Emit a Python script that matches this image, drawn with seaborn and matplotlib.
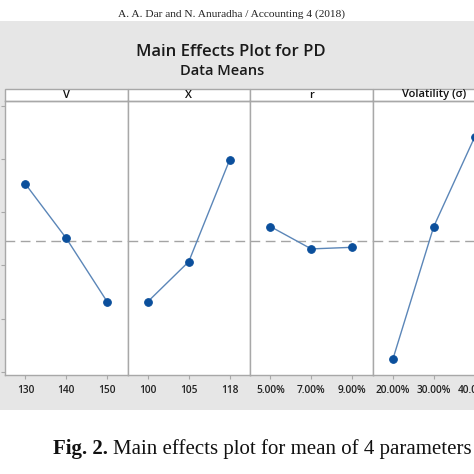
import numpy as np
import pandas as pd
import matplotlib
matplotlib.use('Agg')
import matplotlib.pyplot as plt
import matplotlib.patches as mpatches
import seaborn as sns

# ── Data ────────────────────────────────────────────────────────
factors   = ['V', 'X', 'r', 'Volatility (σ)']
v_levels  = ['130', '140', '150']
x_levels  = ['100', '105', '118']
r_levels  = ['5.00%', '7.00%', '9.00%']
s_levels  = ['20.00%', '30.00%', '40.00%']
v_means   = [13.53, 12.51, 11.32]
x_means   = [11.32, 12.07, 13.98]
r_means   = [12.73, 12.31, 12.34]
s_means   = [10.24, 12.73, 14.41]
y_ticks   = [10, 11, 12, 13, 14, 15]

levels = [v_levels, x_levels, r_levels, s_levels]
means  = [v_means, x_means, r_means, s_means]

df = pd.concat([
    pd.DataFrame({'factor': f, 'level': lv, 'PD': m})
    for f, lv, m in zip(factors, levels, means)
], ignore_index=True)
grand_mean = np.mean(v_means)

# ── Figure ──────────────────────────────────────────────────────
sns.set_style('white')
plt.rcParams['font.family'] = ['Open Sans', 'DejaVu Sans']

W = H = 474
fig = plt.figure(figsize=(4.74, 4.74), dpi=100)

# gray Minitab backdrop (behind the axes)
fig.patches.append(mpatches.Rectangle((0, (H - 410) / H), 1, (410 - 21) / H,
                                      transform=fig.transFigure,
                                      facecolor='#e6e6e6', edgecolor='none', zorder=-5))

fig.text(0.488, 1 - 14 / H, 'A. A. Dar and N. Anuradha / Accounting 4 (2018)',
         family='Liberation Serif', fontsize=8.2, ha='center', va='center', color='#222222')
fig.text(0.487, 1 - 52 / H, 'Main Effects Plot for PD', fontsize=12,
         fontweight='semibold', ha='center', va='center', color='#1a1a1a')
fig.text(0.468, 1 - 71 / H, 'Data Means', fontsize=10.5,
         fontweight='semibold', ha='center', va='center', color='#1a1a1a')

panel_w = 122.5
top, bot = 101, 375
strip_h = 12
dark_blue = '#0b4f9c'
line_blue = '#5b86b8'
border = '#a8a8a8'

for i, f in enumerate(factors):
    left = 5 + panel_w * i
    ax = fig.add_axes([left / W, (H - bot) / H, panel_w / W, (bot - top) / H])
    ax.set_facecolor('white')
    sub = df[df['factor'] == f]
    ax.axhline(grand_mean, color='#a4a4a4', linestyle=(0, (7, 4)), linewidth=1, zorder=1)
    sns.pointplot(data=sub, x='level', y='PD', order=levels[i], ax=ax,
                  errorbar=None, color=line_blue, linewidth=1,
                  markers='o', markersize=5.5,
                  markerfacecolor=dark_blue, markeredgecolor=dark_blue)
    ax.set_xlim(-0.5, 2.5)
    ax.set_ylim(9.94, 15.09)
    ax.set_yticks(y_ticks)
    ax.set_xlabel('')
    ax.set_ylabel('')
    for s in ax.spines.values():
        s.set_color(border)
        s.set_linewidth(1)
    ax.tick_params(axis='x', bottom=True, length=3, color=border,
                   labelsize=7.3, pad=4, labelcolor='#222222')
    for t in ax.get_xticklabels():
        t.set_fontweight('semibold')
    if i == 0:
        ax.tick_params(axis='y', left=True, length=3, color=border, labelleft=False)
    else:
        ax.tick_params(axis='y', left=False, labelleft=False)
    # strip header
    sh = strip_h / (bot - top)
    ax.add_patch(mpatches.Rectangle((0, 1), 1, sh, transform=ax.transAxes,
                                    facecolor='white', edgecolor=border,
                                    linewidth=1, clip_on=False))
    ax.text(0.5, 1 + sh / 2, f, transform=ax.transAxes, ha='center', va='center',
            fontsize=8, fontweight='semibold', color='#111111')

# caption
fig.text(53 / W, 1 - 449 / H, 'Fig. 2.', family='Liberation Serif', fontsize=15,
         fontweight='bold', ha='left', va='center', color='#111111')
fig.text(113 / W, 1 - 449 / H, 'Main effects plot for mean of 4 parameters',
         family='Liberation Serif', fontsize=15, ha='left', va='center', color='#111111')

fig.savefig('out.png', dpi=100)
